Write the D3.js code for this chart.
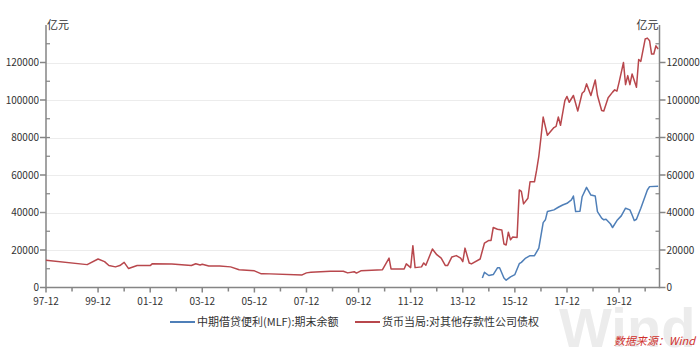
<!DOCTYPE html>
<meta charset="utf-8">
<script src="https://d3js.org/d3.v7.min.js"></script>
<style>
  body { margin: 0; background: #fff; }
  text { font-family: "Noto Sans CJK SC", "Liberation Sans", sans-serif; }
  .tick-label { font-size: 10px; fill: #333; }
  .legend { font-size: 11px; fill: #333; }
</style>
<body>
<div id="chart"></div>
<script>
// 货币当局:对其他存款性公司债权 (亿元)
var claimDates = ["1997-12","1999-07","1999-12","2000-03","2000-05","2000-08","2000-10","2000-12","2001-02","2001-06",
  "2001-12","2002-01","2002-10","2003-07","2003-09","2003-11","2003-12","2004-03","2004-08","2005-01",
  "2005-05","2005-12","2006-03","2006-04","2007-10","2007-12","2008-02","2008-11","2009-05","2009-07",
  "2009-10","2009-11","2010-01","2010-11","2011-02","2011-03","2011-09","2011-10","2011-12","2012-01",
  "2012-02","2012-05","2012-06","2012-07","2012-10","2012-12","2013-02","2013-04","2013-05","2013-07",
  "2013-09","2013-11","2013-12","2014-01","2014-03","2014-04","2014-08","2014-10","2014-12","2015-01",
  "2015-02","2015-04","2015-06","2015-07","2015-08","2015-09","2015-10","2015-11","2016-01","2016-02",
  "2016-03","2016-04","2016-06","2016-07","2016-09","2016-10","2016-11","2016-12","2017-01","2017-03",
  "2017-06","2017-07","2017-08","2017-09","2017-11","2017-12","2018-01","2018-03","2018-05","2018-07",
  "2018-08","2018-09","2018-11","2019-01","2019-02","2019-04","2019-05","2019-07","2019-09","2019-10",
  "2019-11","2019-12","2020-02","2020-03","2020-04","2020-05","2020-06","2020-08","2020-09","2020-10",
  "2020-12","2021-01","2021-02","2021-03","2021-04","2021-05","2021-06"];
var claimValues = [14500,12200,15200,13800,11700,11000,11700,13400,10100,11700,
  11700,12700,12500,11700,12700,12000,12400,11500,11500,11000,
  9500,8900,7400,7400,6700,7800,8100,8700,8700,7800,
  8400,7700,8900,9500,15700,9900,9900,12600,10600,22300,
  10600,11000,13100,11900,20500,17500,15700,11700,11700,16300,
  17000,15700,13800,21000,13100,12600,15200,23700,25100,25100,
  32000,31100,30700,23200,22700,29500,25500,26900,26700,52000,
  51300,44600,47600,56400,56400,62600,70000,80000,90900,81200,
  85300,85900,90900,86500,99700,101900,98800,102400,94100,103600,
  104700,108600,102400,110700,102400,94400,94100,101200,104200,105400,
  104700,109400,120000,108200,113000,108200,113900,106800,121600,120600,
  132500,133000,131600,124500,124500,128900,127200];

// 中期借贷便利(MLF):期末余额 (亿元)
var mlfDates = ["2014-09","2014-10","2014-12","2015-02","2015-04","2015-05","2015-07","2015-08","2015-10","2015-12",
  "2016-02","2016-03","2016-05","2016-07","2016-09","2016-11","2017-01","2017-02","2017-03","2017-06",
  "2017-08","2017-10","2017-12","2018-02","2018-03","2018-04","2018-06","2018-07","2018-09","2018-11",
  "2019-01","2019-02","2019-04","2019-05","2019-06","2019-08","2019-09","2019-11","2020-01","2020-03",
  "2020-05","2020-06","2020-07","2020-08","2020-10","2021-01","2021-02","2021-06"];
var mlfValues = [5100,8100,6400,6900,10500,10500,5100,3900,5700,6900,
  12700,13400,15700,17000,17000,21000,34600,36100,40500,41400,
  42800,44000,44900,46700,48800,40500,40700,48400,53400,49300,
  48800,40500,37000,36100,36400,34000,32000,35700,38200,42300,
  41400,38700,35700,36400,42300,52000,53800,54000];

var seriesNames = ["中期借贷便利(MLF):期末余额", "货币当局:对其他存款性公司债权"];
var seriesColors = ["#4f7fb8", "#b8474c"];
var yTicks = [0, 20000, 40000, 60000, 80000, 100000, 120000];
var yMinorTicks = [10000, 30000, 50000, 70000, 80000, 90000, 110000, 130000];
var unitLabel = "亿元";
var sourceLabel = "数据来源：Wind";

var width = 700, height = 348;
var margin = {top: 25, right: 40.5, bottom: 60, left: 46};
var parse = d3.timeParse("%Y-%m");
var fmt = d3.timeFormat("%y-%m");

var svg = d3.select("#chart").append("svg")
  .attr("width", width).attr("height", height);

// watermark
svg.append("text")
  .attr("x", 559).attr("y", 347)
  .style("font-family", "'Liberation Sans', Arial, sans-serif")
  .style("font-size", "56px").style("font-weight", "bold")
  .style("fill", "#ececec")
  .text("Wind");

var x = d3.scaleTime()
  .domain([parse("1997-12"), new Date(2021, 5, 20)])
  .range([margin.left, width - margin.right]);
var y = d3.scaleLinear()
  .domain([0, 140000])
  .range([height - margin.bottom - 0.5, margin.top]);

// gridlines
svg.append("g").selectAll("line")
  .data(yTicks.slice(1))
  .enter().append("line")
  .attr("x1", x.range()[0]).attr("x2", x.range()[1])
  .attr("y1", function(d) { return Math.round(y(d)) + 0.5; })
  .attr("y2", function(d) { return Math.round(y(d)) + 0.5; })
  .style("stroke", "#ececec").style("stroke-width", 1);

var axisColor = "#858585";

// x axis
var majorX = d3.range(1997, 2021, 2).map(function(yr) { return new Date(yr, 11, 1); });
var minorX = d3.range(1998, 2021, 2).map(function(yr) { return new Date(yr, 11, 1); });
var x0 = y(0);
var gx = svg.append("g");
gx.append("line")
  .attr("x1", x.range()[0]).attr("x2", x.range()[1])
  .attr("y1", x0).attr("y2", x0)
  .style("stroke", axisColor).style("stroke-width", 1.5);
gx.selectAll(".maj").data(majorX).enter().append("line")
  .attr("x1", function(d) { return x(d); }).attr("x2", function(d) { return x(d); })
  .attr("y1", x0).attr("y2", x0 + 5)
  .style("stroke", axisColor).style("stroke-width", 1.5);
gx.selectAll(".min").data(minorX).enter().append("line")
  .attr("x1", function(d) { return x(d); }).attr("x2", function(d) { return x(d); })
  .attr("y1", x0).attr("y2", x0 + 4)
  .style("stroke", axisColor).style("stroke-width", 1.5);
gx.selectAll("text").data(majorX).enter().append("text")
  .attr("class", "tick-label")
  .attr("x", function(d) { return x(d); }).attr("y", x0 + 17)
  .attr("text-anchor", "middle")
  .text(function(d) { return fmt(d); });

// y axes (left and right)
function drawYAxis(xpos, side) {
  var g = svg.append("g");
  g.append("line")
    .attr("x1", xpos).attr("x2", xpos)
    .attr("y1", y.range()[1]).attr("y2", x0 + 0.75)
    .style("stroke", axisColor).style("stroke-width", 1.5);
  g.selectAll(".maj").data(yTicks).enter().append("line")
    .attr("x1", xpos).attr("x2", xpos + side * 6)
    .attr("y1", function(d) { return y(d); }).attr("y2", function(d) { return y(d); })
    .style("stroke", axisColor).style("stroke-width", 1.5);
  g.selectAll(".min").data(yMinorTicks).enter().append("line")
    .attr("x1", xpos).attr("x2", xpos - side * 4)
    .attr("y1", function(d) { return y(d); }).attr("y2", function(d) { return y(d); })
    .style("stroke", axisColor).style("stroke-width", 1.2);
  g.selectAll("text").data(yTicks).enter().append("text")
    .attr("class", "tick-label")
    .attr("x", xpos + side * 7)
    .attr("y", function(d) { return y(d) + 3.5; })
    .attr("text-anchor", side < 0 ? "end" : "start")
    .text(function(d) { return d; });
}
drawYAxis(x.range()[0], -1);
drawYAxis(x.range()[1], 1);

svg.append("text").attr("class", "tick-label")
  .attr("x", x.range()[0] + 1).attr("y", y.range()[1] + 4)
  .style("font-size", "11px")
  .text(unitLabel);
svg.append("text").attr("class", "tick-label")
  .attr("x", x.range()[1] - 1).attr("y", y.range()[1] + 4)
  .attr("text-anchor", "end")
  .style("font-size", "11px")
  .text(unitLabel);

// lines
var line = d3.line()
  .x(function(d) { return x(d[0]); })
  .y(function(d) { return y(d[1]); });

var claimData = claimDates.map(function(d, i) { return [parse(d), claimValues[i]]; });
var mlfData = mlfDates.map(function(d, i) { return [parse(d), mlfValues[i]]; });

svg.append("path").datum(claimData)
  .attr("d", line)
  .style("fill", "none").style("stroke", seriesColors[1]).style("stroke-width", 1.5)
  .style("stroke-linejoin", "round");
svg.append("path").datum(mlfData)
  .attr("d", line)
  .style("fill", "none").style("stroke", seriesColors[0]).style("stroke-width", 1.5)
  .style("stroke-linejoin", "round");

// legend
var legendPos = [170, 355];
seriesNames.forEach(function(name, i) {
  var lx = legendPos[i];
  svg.append("line")
    .attr("x1", lx).attr("x2", lx + 25)
    .attr("y1", 322).attr("y2", 322)
    .style("stroke", seriesColors[i]).style("stroke-width", 2);
  svg.append("text").attr("class", "legend")
    .attr("x", lx + 27).attr("y", 326)
    .text(name);
});

// source
svg.append("text")
  .attr("x", 695).attr("y", 345)
  .attr("text-anchor", "end")
  .style("font-size", "11px").style("font-style", "italic")
  .style("fill", "#d0312d")
  .text(sourceLabel);
</script>
</body>
</html>
